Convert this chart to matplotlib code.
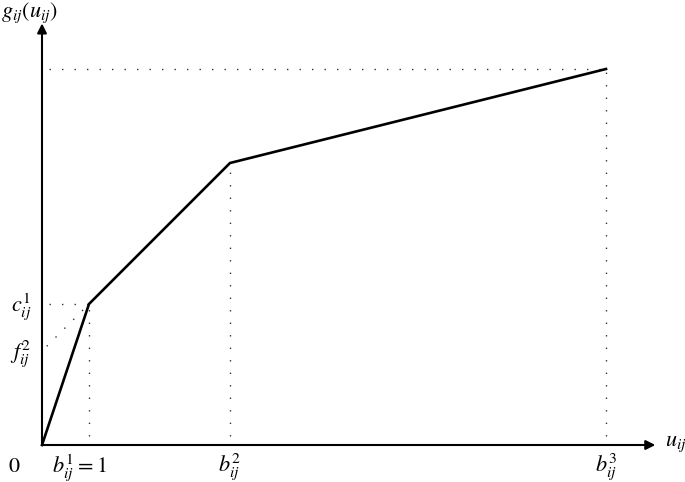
import numpy as np
import matplotlib.pyplot as plt

plt.rcParams['mathtext.fontset'] = 'stix'
plt.rcParams['font.family'] = 'STIXGeneral'

# breakpoints of the piecewise linear function
b = [0, 1, 4, 12]
g = [0, 3, 6, 8]
f2 = 2  # intercept of second segment extended back

fig = plt.figure(figsize=(6.85, 4.82), dpi=100)
ax = fig.add_axes([0, 0, 1, 1])
ax.set_xlim(-42 / 47, 643 / 47)
ax.set_ylim(-37 / 47, 445 / 47)
ax.axis('off')

dot = dict(color='#333333', lw=1.0, linestyle=(0, (1, 8)))

# guide lines
for xi, yi in zip(b[1:], g[1:]):
    ax.plot([xi, xi], [0.2, yi], **dot)
ax.plot([0.15, b[1]], [g[1], g[1]], **dot)
ax.plot([0.15, b[3]], [g[3], g[3]], **dot)
ax.plot([0.1, b[1]], [f2 + 0.1, g[1]], **dot)

# axes with arrows
ax.annotate('', xy=(13.05, 0), xytext=(0, 0),
            arrowprops=dict(arrowstyle='-|>', lw=1.5, color='black',
                            mutation_scale=14, shrinkA=0, shrinkB=0))
ax.annotate('', xy=(0, 8.97), xytext=(0, 0),
            arrowprops=dict(arrowstyle='-|>', lw=1.5, color='black',
                            mutation_scale=14, shrinkA=0, shrinkB=0))

ax.plot(b, g, color='black', lw=1.9, solid_joinstyle='miter')

fs = 16
ax.text(-0.88, 9.2, r'$g_{ij}(u_{ij})$', fontsize=fs, ha='left', va='center')
ax.text(13.25, 0.02, r'$u_{ij}$', fontsize=fs, ha='left', va='center')
ax.text(-0.6, -0.47, '0', fontsize=fs, ha='center', va='center')
ax.text(b[1] - 0.2, -0.47, r'$b^1_{ij} = 1$', fontsize=fs, ha='center', va='center')
ax.text(b[2], -0.47, r'$b^2_{ij}$', fontsize=fs, ha='center', va='center')
ax.text(b[3], -0.47, r'$b^3_{ij}$', fontsize=fs, ha='center', va='center')
ax.text(-0.45, g[1] - 0.05, r'$c^1_{ij}$', fontsize=fs, ha='center', va='center')
ax.text(-0.45, f2 - 0.05, r'$f^2_{ij}$', fontsize=fs, ha='center', va='center')

fig.savefig('out.png', dpi=100)
